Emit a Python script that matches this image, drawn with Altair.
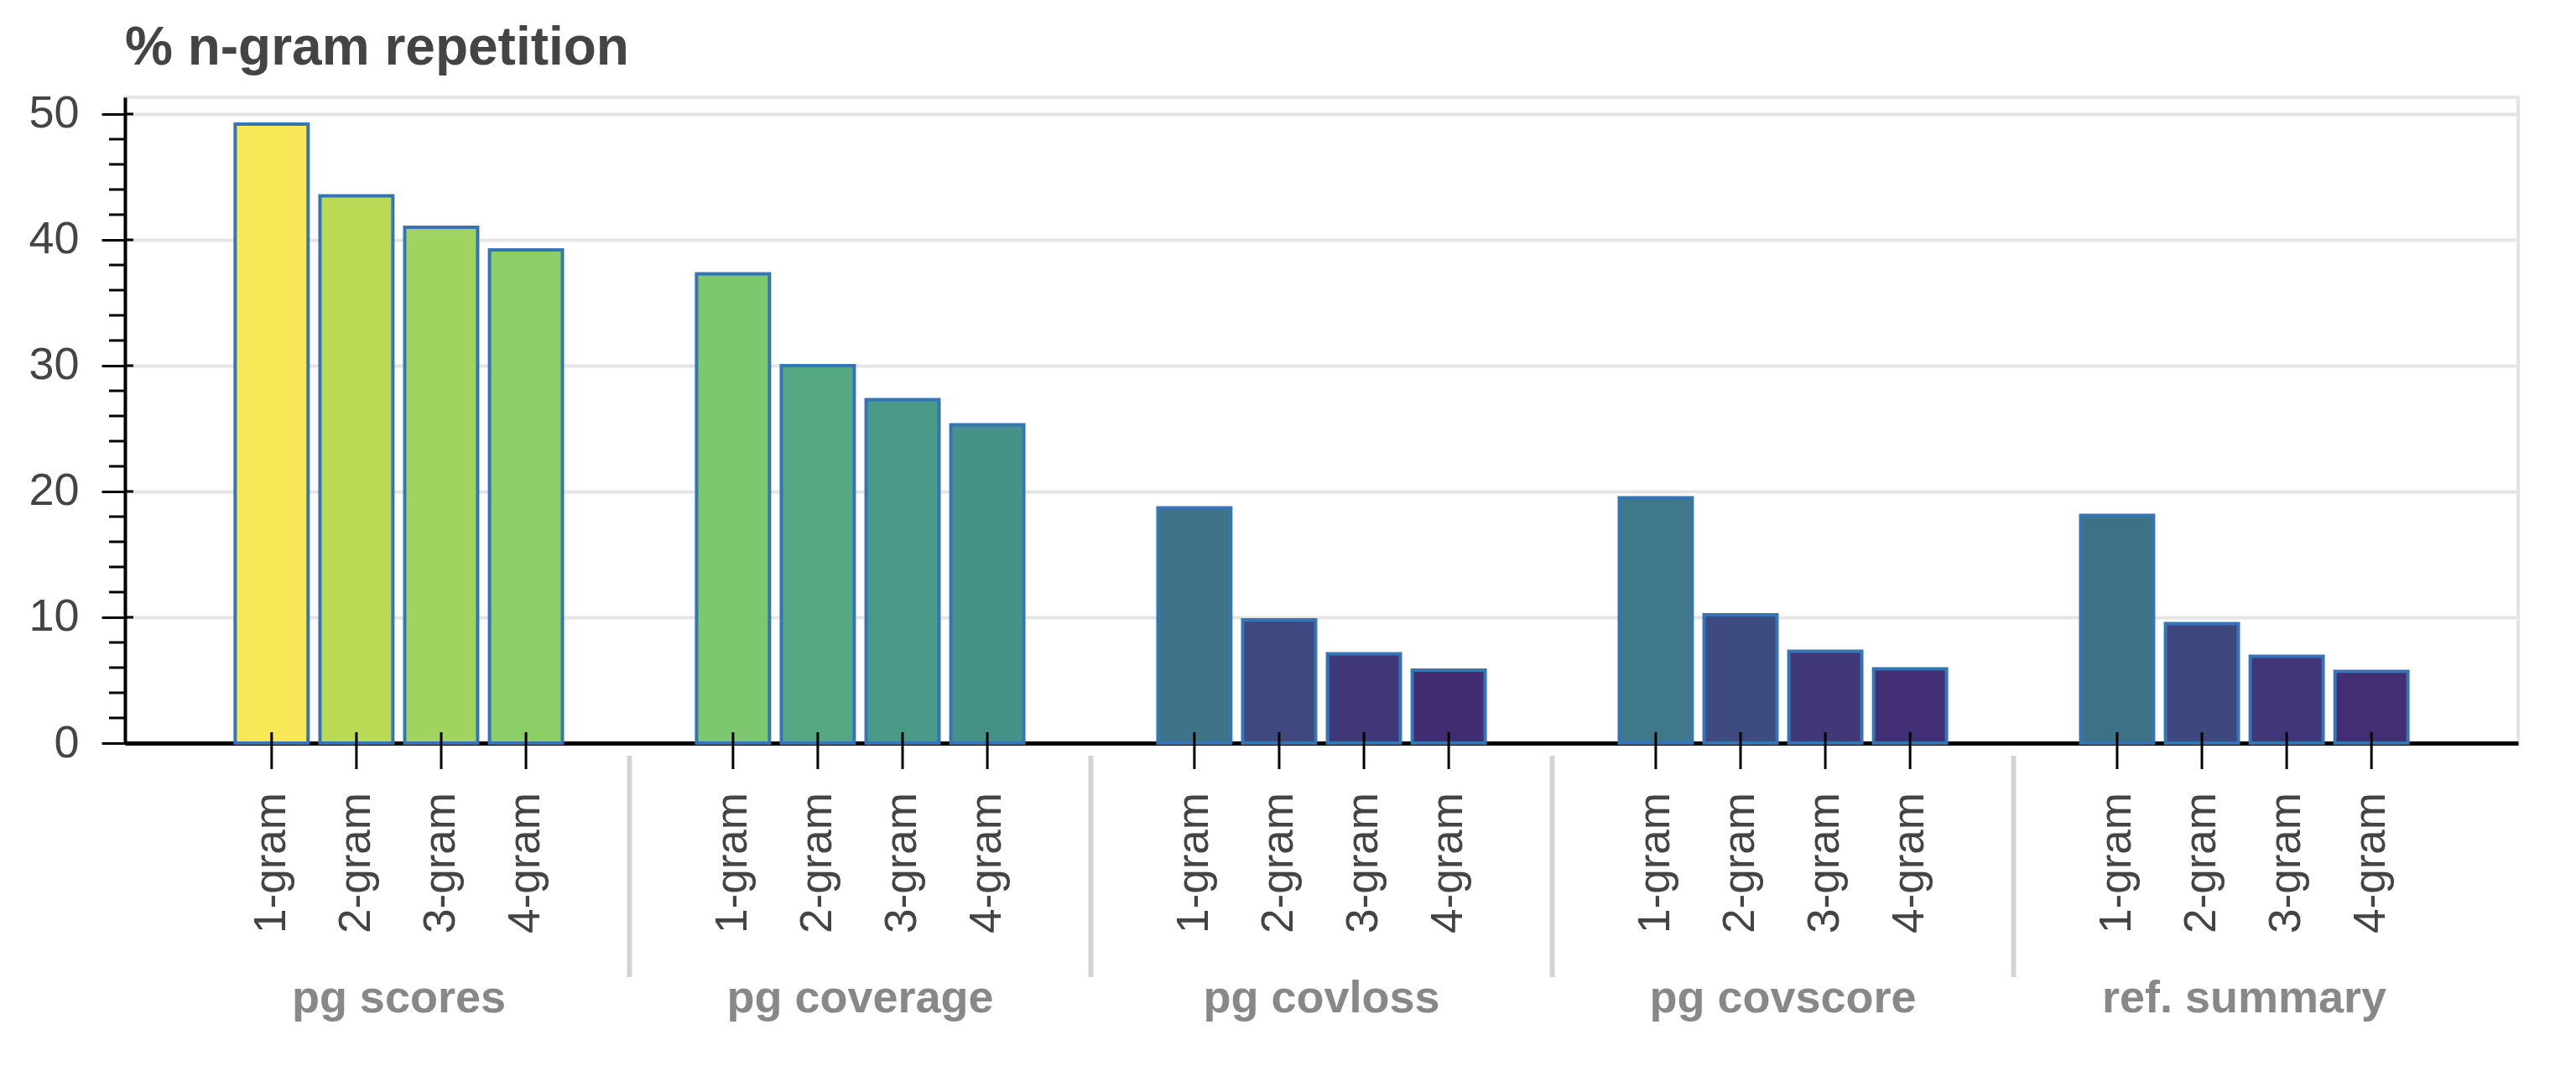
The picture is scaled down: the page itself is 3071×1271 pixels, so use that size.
import altair as alt
import pandas as pd

title_text = "% n-gram repetition"
groups = ["pg scores", "pg coverage", "pg covloss", "pg covscore", "ref. summary"]
ngrams = ["1-gram", "2-gram", "3-gram", "4-gram"]
pg_scores = [49.2, 43.5, 41.0, 39.2]
pg_coverage = [37.3, 30.0, 27.3, 25.3]
pg_covloss = [18.7, 9.8, 7.1, 5.8]
pg_covscore = [19.5, 10.2, 7.3, 5.9]
ref_summary = [18.1, 9.5, 6.9, 5.7]
major_ticks = [0, 10, 20, 30, 40, 50]
minor_ticks = [2, 4, 6, 8, 12, 14, 16, 18, 22, 24, 26, 28, 32, 34, 36, 38, 42, 44, 46, 48]

series = [pg_scores, pg_coverage, pg_covloss, pg_covscore, ref_summary]
rows = []
for g, vals in zip(groups, series):
    for n, v in zip(ngrams, vals):
        rows.append({"group": g, "ngram": n, "value": v})
df = pd.DataFrame(rows)
gdf = pd.DataFrame({"group": groups})
sepdf = pd.DataFrame({"group": groups[1:]})
majdf = pd.DataFrame({"value": major_ticks})
mindf = pd.DataFrame({"value": minor_ticks})
tdf = pd.DataFrame({"title": [title_text]})

W, H = 2853, 770
FONT = "Liberation Sans"
P_INNER, P_OUTER = 0.265, 0.226
group_step = W / (len(groups) - P_INNER + 2 * P_OUTER)
half_gap = P_INNER * group_step / 2

xscale = alt.Scale(domain=groups, paddingInner=P_INNER, paddingOuter=P_OUTER)
xaxis = alt.Axis(labels=False, ticks=False, grid=False, title=None,
                 domainColor="black", domainWidth=5)
xoff = alt.XOffset("ngram:N", sort=ngrams,
                   scale=alt.Scale(domain=ngrams, paddingInner=0.14, paddingOuter=0.07))
yscale = alt.Scale(domain=[0, 51.33], nice=False, zero=True)
yaxis = alt.Axis(values=major_ticks, tickSize=28, tickWidth=3, tickColor="black",
                 domainColor="black", domainWidth=4, labelFontSize=54,
                 labelColor="#444444", labelFont=FONT, labelPadding=27,
                 grid=True, gridColor="#e5e5e5", gridWidth=4, title=None)
Y = alt.Y("value:Q", scale=yscale, axis=yaxis)
X = alt.X("group:N", scale=xscale, axis=xaxis)

color_scale = alt.Scale(
    domain=[0, 5.5, 10, 18.5, 25, 30, 37.5, 43.5, 49, 50],
    range=["#452067", "#432B72", "#3F4A80", "#3F7388", "#468F88", "#55A884",
           "#7FC86D", "#BADA55", "#F8E755", "#FAE85A"],
)

bars = alt.Chart(df).mark_bar(stroke="#3574b5", strokeWidth=4).encode(
    x=X,
    xOffset=xoff,
    y=Y,
    color=alt.Color("value:Q", scale=color_scale, legend=None),
)

xticks = alt.Chart(df).mark_rule(color="black", strokeWidth=3).encode(
    x=X,
    xOffset=xoff,
    y=alt.value(H - 13),
    y2=alt.value(H + 31),
)

ngram_labels = alt.Chart(df).mark_text(
    angle=270, align="right", baseline="middle", fontSize=53, font=FONT, color="#444444"
).encode(
    x=X,
    xOffset=xoff,
    y=alt.value(829),
    text="ngram:N",
)

group_labels = alt.Chart(gdf).mark_text(
    align="center", baseline="alphabetic", fontSize=54, font=FONT, fontWeight="bold",
    color="#888888"
).encode(
    x=X,
    y=alt.value(1091),
    text="group:N",
)

separators = alt.Chart(sepdf).mark_rule(color="#d3d3d3", strokeWidth=6, xOffset=-half_gap).encode(
    x=alt.X("group:N", scale=xscale, axis=xaxis, bandPosition=0),
    y=alt.value(785),
    y2=alt.value(1049),
)

minor = alt.Chart(mindf).mark_rule(color="black", strokeWidth=3).encode(
    y=Y,
    x=alt.value(-19),
    x2=alt.value(0),
)
major_in = alt.Chart(majdf).mark_rule(color="black", strokeWidth=3).encode(
    y=Y,
    x=alt.value(0),
    x2=alt.value(10),
)

title_mark = alt.Chart(tdf).mark_text(
    align="left", baseline="alphabetic", fontSize=64, font=FONT, fontWeight="bold",
    color="#444444"
).encode(
    x=alt.value(0),
    y=alt.value(-39),
    text="title:N",
)

chart = alt.layer(bars, xticks, ngram_labels, group_labels, separators, minor, major_in,
                  title_mark).properties(
    width=W,
    height=H,
    padding={"left": 141, "top": 108, "right": 60, "bottom": 370},
    autosize=alt.AutoSizeParams(type="none"),
).configure_view(stroke="#e5e5e5", strokeWidth=4)

chart.save("out.html", embed_options={"renderer": "svg", "actions": False})
